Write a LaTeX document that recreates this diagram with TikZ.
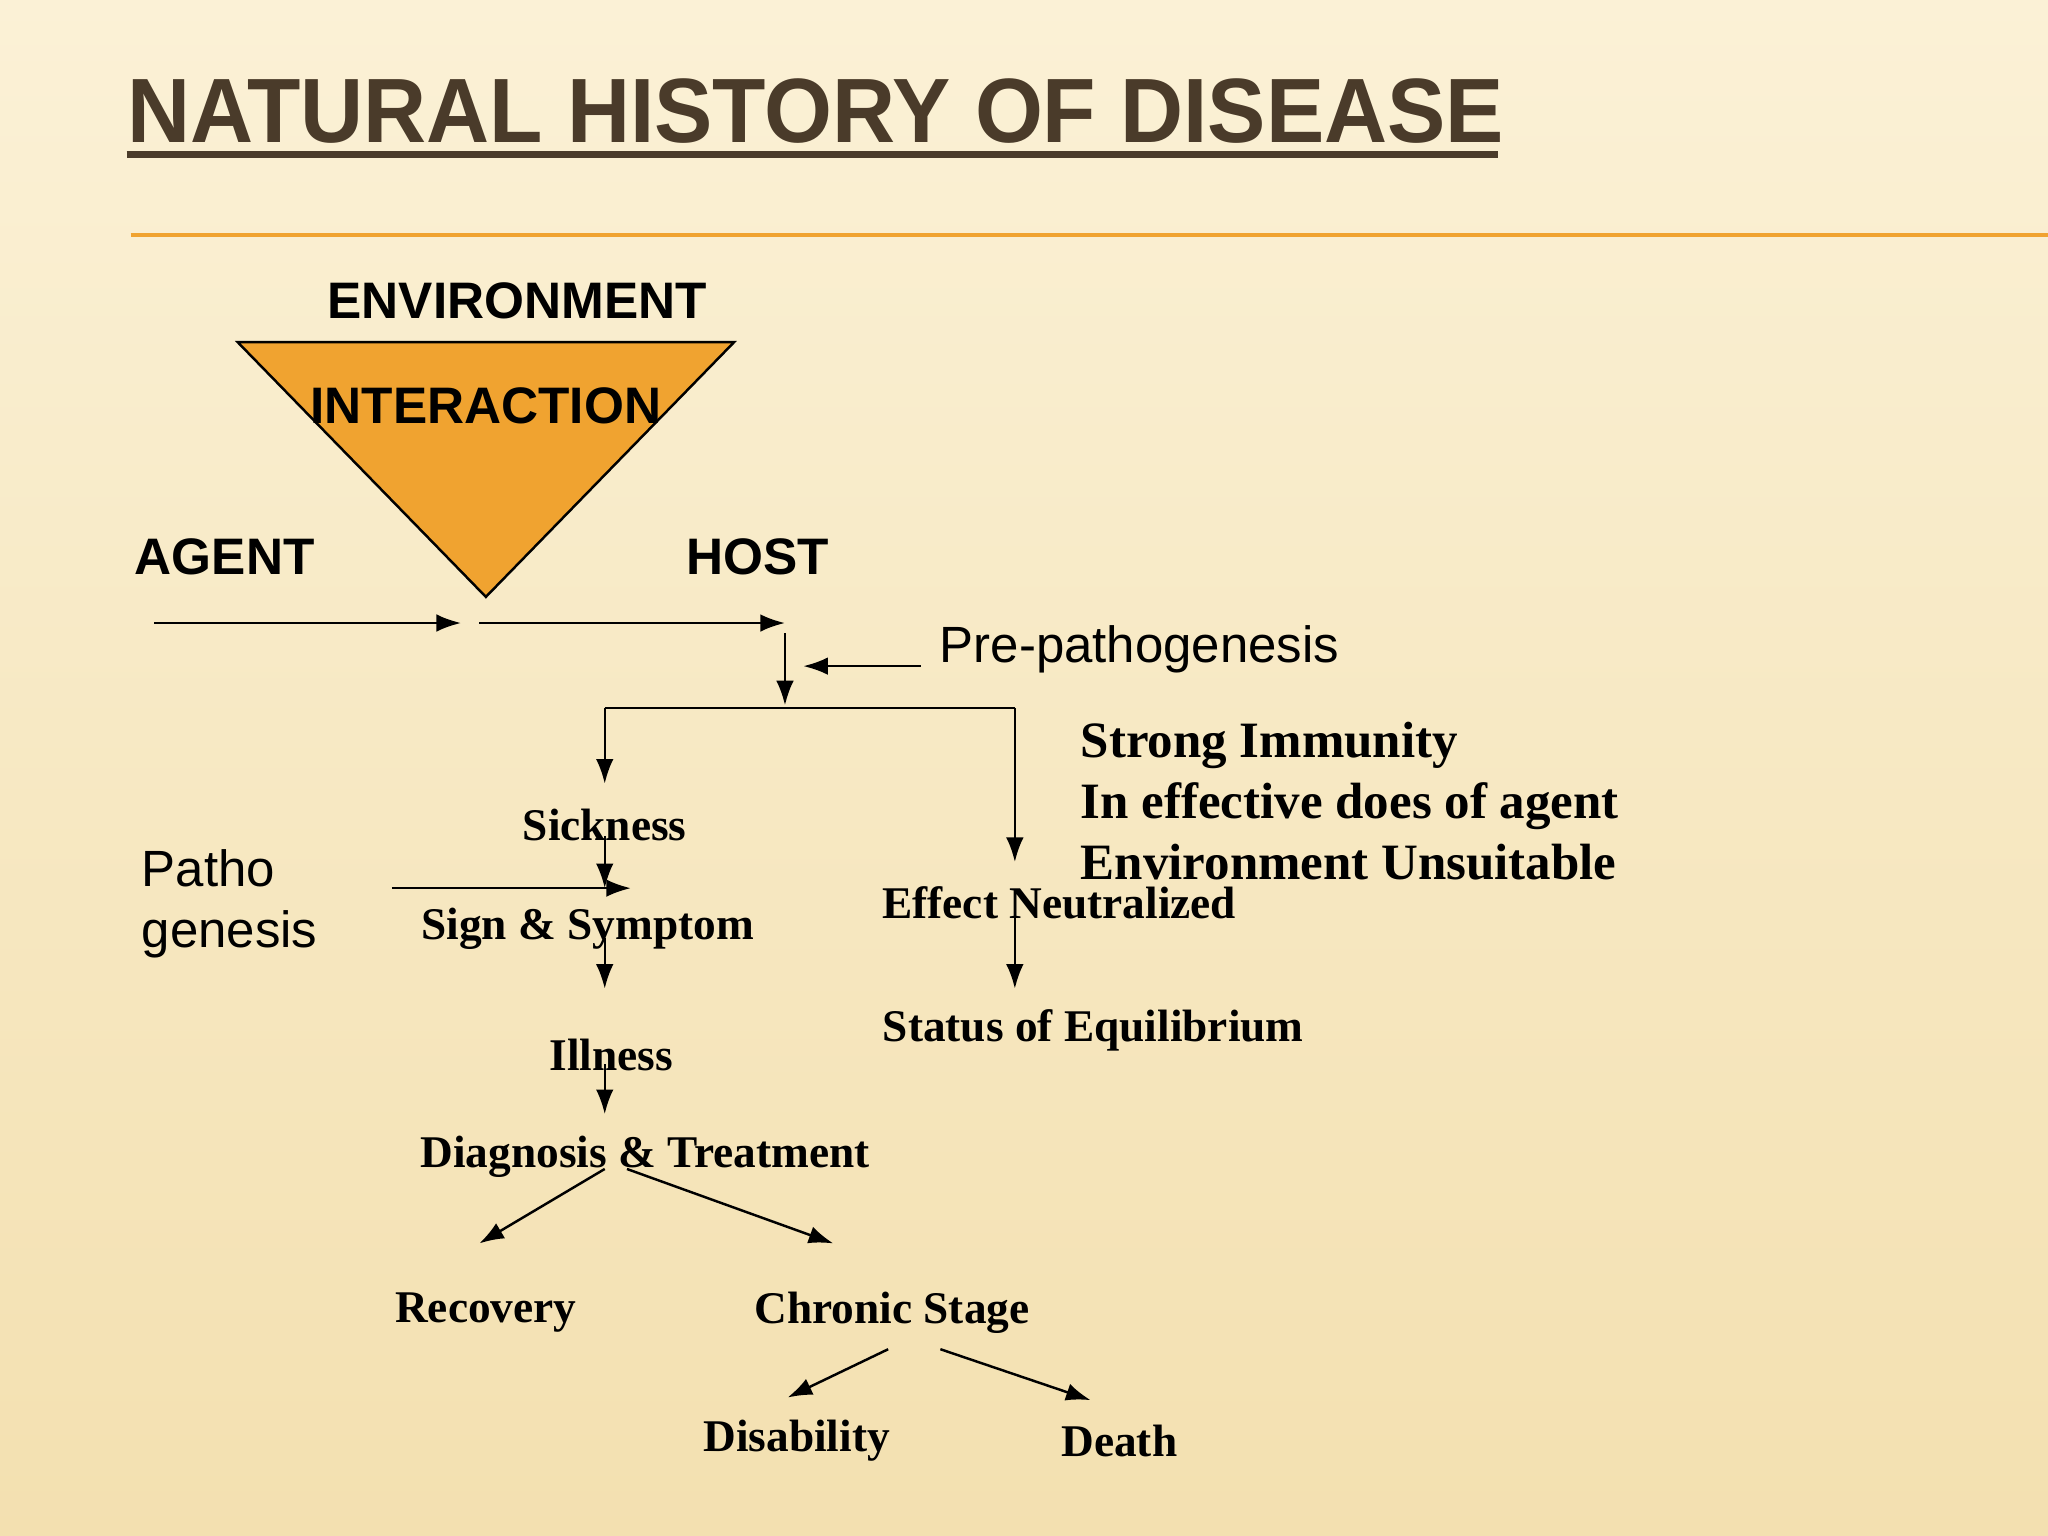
\documentclass[tikz,border=0pt]{standalone}
\usepackage{fontspec}
\setmainfont{Liberation Serif}
\setsansfont{Liberation Sans}
\usetikzlibrary{arrows.meta}
\definecolor{bgA}{HTML}{FBF1D6}
\definecolor{bgB}{HTML}{F3E0B0}
\definecolor{ttl}{HTML}{4A3B2A}
\definecolor{org}{HTML}{F0A330}
\begin{document}
\begin{tikzpicture}[x=0.013061cm,y=-0.013061cm,
  sanslbl/.style={font=\sffamily\bfseries\fontsize{14.6}{17}\selectfont,inner sep=0},
  serlbl/.style={font=\bfseries\fontsize{12.9}{15}\selectfont,inner sep=0},
  arr/.style={-{Latex[length=7pt,width=5pt]},line width=0.7pt},
  ln/.style={line width=0.7pt}]
\shade[top color=bgA,bottom color=bgB] (0,0) rectangle (1568,1176);
\useasboundingbox (0,0) rectangle (1568,1176);
\node[anchor=west,inner sep=0,text=ttl,xscale=0.956] (title) at (97,85) {\sffamily\bfseries\fontsize{26}{30}\selectfont NATURAL HISTORY OF DISEASE};
\draw[ttl,line width=2pt] (97,118) -- (1147,118);
\draw[org,line width=1.2pt] (100,180) -- (1568,180);
\draw[fill=org,line width=0.7pt] (182,262) -- (562,262) -- (372,457) -- cycle;
\node[sanslbl] (env) at (396,230) {ENVIRONMENT};
\node[sanslbl] (inter) at (372,311) {INTERACTION};
\node[sanslbl] (agent) at (172,426) {AGENT};
\node[sanslbl] (host) at (580,426) {HOST};
\coordinate (a1) at (118,477); \coordinate (a2) at (353,477);
\coordinate (h1) at (367,477); \coordinate (h2) at (601,477);
\coordinate (d1) at (601,485); \coordinate (d2) at (601,540);
\coordinate (p1) at (705,510); \coordinate (p2) at (615,510);
\coordinate (bl) at (463,542); \coordinate (br) at (777,542);
\draw[arr] (a1) -- (a2);
\draw[arr] (h1) -- (h2);
\draw[arr] (d1) -- (d2);
\draw[arr] (p1) -- (p2);
\node[anchor=west,inner sep=0,font=\sffamily\fontsize{14.5}{17}\selectfont] (pre) at (719,497) {Pre-pathogenesis};
\draw[ln] (bl) -- (br);
\node[serlbl] (sick) at (463,632) {Sickness};
\node[serlbl] (sign) at (450,711) {Sign \& Symptom};
\node[serlbl] (ill) at (468,808) {Illness};
\node[serlbl] (diag) at (494,886) {Diagnosis \& Treatment};
\node[serlbl] (rec) at (372,1005) {Recovery};
\node[serlbl] (chr) at (683,1005) {Chronic Stage};
\node[serlbl] (dis) at (610,1103) {Disability};
\node[serlbl] (death) at (857,1103) {Death};
\node[serlbl] (eff) at (811,691) {Effect Neutralized};
\node[serlbl] (stat) at (837,789) {Status of Equilibrium};
\node[anchor=north west,align=left,inner sep=0,font=\bfseries\fontsize{14.5}{17.4}\selectfont] (strong) at (827,552) {Strong Immunity\\In effective does of agent\\Environment Unsuitable};
\node[anchor=north west,align=left,inner sep=0,font=\sffamily\fontsize{14.5}{17.4}\selectfont] (patho) at (108,650) {Patho\\genesis};
\draw[arr] (bl) -- (463,600);
\draw[arr] (br) -- (777,660);
\draw[arr] (463,640) -- (463,680);
\draw[arr] (300,680) -- (483,680);
\draw[arr] (463,718) -- (463,757);
\draw[arr] (463,815) -- (463,853);
\draw[arr] (463,895) -- (367,952);
\draw[arr] (480,895) -- (638,952);
\draw[arr] (680,1033) -- (603,1070);
\draw[arr] (720,1033) -- (835,1072);
\draw[arr] (777,695) -- (777,757);
\end{tikzpicture}
\end{document}
